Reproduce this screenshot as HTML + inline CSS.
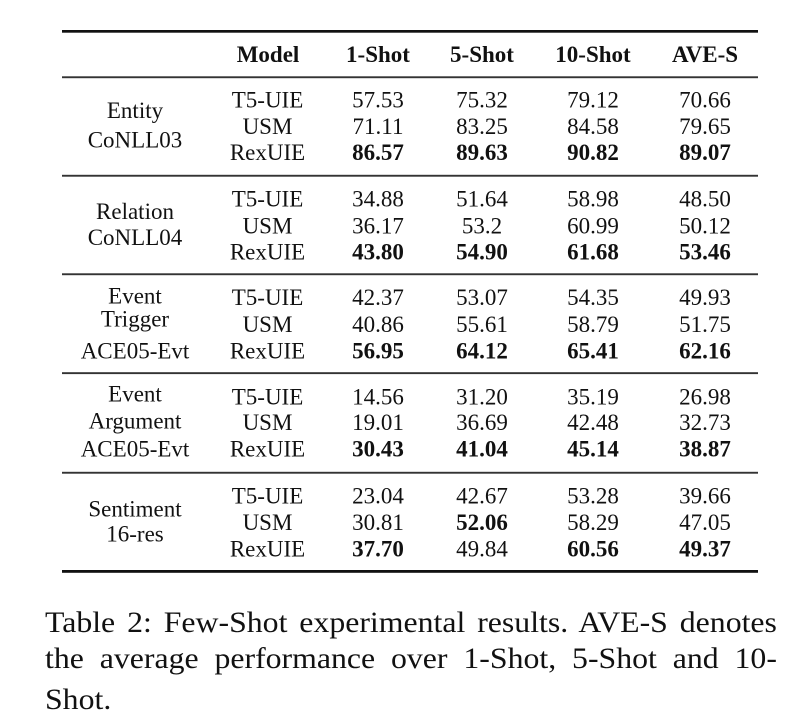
<!DOCTYPE html>
<html>
<head>
<meta charset="utf-8">
<style>
  html, body { margin: 0; padding: 0; background: #fff; }
  body { width: 801px; height: 721px; position: relative; overflow: hidden; }
  svg { position: absolute; left: 0; top: 0; }
  svg text { font-family: "Liberation Serif", "Times New Roman", serif; font-size: 23px; fill: #111; text-anchor: middle; }
  svg text.b { font-weight: bold; }
  .cl { position: absolute; left: 45px; width: 690.5px; font-family: "Liberation Serif", "Times New Roman", serif; font-size: 30px; line-height: 38.5px; color: #111; white-space: nowrap; transform: scaleX(1.06); transform-origin: 0 0; }
  .cl.j { text-align: justify; text-align-last: justify; white-space: normal; }
</style>
</head>
<body>
<svg width="801" height="721" viewBox="0 0 801 721" xmlns="http://www.w3.org/2000/svg">
  <!-- rules -->
  <rect x="62" y="30" width="696" height="2.7" fill="#111"/>
  <rect x="62" y="76.3" width="696" height="1.9" fill="#333"/>
  <rect x="62" y="174.8" width="696" height="1.9" fill="#333"/>
  <rect x="62" y="273.3" width="696" height="1.9" fill="#333"/>
  <rect x="62" y="372.2" width="696" height="1.9" fill="#333"/>
  <rect x="62" y="471.8" width="696" height="1.9" fill="#333"/>
  <rect x="62" y="570" width="696" height="2.8" fill="#111"/>

  <!-- header -->
  <text class="b" x="268" y="62">Model</text>
  <text class="b" x="378" y="62">1-Shot</text>
  <text class="b" x="482" y="62">5-Shot</text>
  <text class="b" x="593" y="62">10-Shot</text>
  <text class="b" x="705" y="62">AVE-S</text>

  <!-- Entity -->
  <text x="135" y="118">Entity</text>
  <text x="135" y="147.3">CoNLL03</text>
  <text x="267.5" y="107.3">T5-UIE</text>
  <text x="267.5" y="134">USM</text>
  <text x="267.5" y="160">RexUIE</text>
  <text x="378" y="107.3">57.53</text>
  <text x="482" y="107.3">75.32</text>
  <text x="593" y="107.3">79.12</text>
  <text x="705" y="107.3">70.66</text>
  <text x="378" y="134">71.11</text>
  <text x="482" y="134">83.25</text>
  <text x="593" y="134">84.58</text>
  <text x="705" y="134">79.65</text>
  <text class="b" x="378" y="160">86.57</text>
  <text class="b" x="482" y="160">89.63</text>
  <text class="b" x="593" y="160">90.82</text>
  <text class="b" x="705" y="160">89.07</text>

  <!-- Relation -->
  <text x="135" y="219">Relation</text>
  <text x="135" y="245">CoNLL04</text>
  <text x="267.5" y="206.7">T5-UIE</text>
  <text x="267.5" y="233.3">USM</text>
  <text x="267.5" y="259.3">RexUIE</text>
  <text x="378" y="206.7">34.88</text>
  <text x="482" y="206.7">51.64</text>
  <text x="593" y="206.7">58.98</text>
  <text x="705" y="206.7">48.50</text>
  <text x="378" y="233.3">36.17</text>
  <text x="482" y="233.3">53.2</text>
  <text x="593" y="233.3">60.99</text>
  <text x="705" y="233.3">50.12</text>
  <text class="b" x="378" y="259.3">43.80</text>
  <text class="b" x="482" y="259.3">54.90</text>
  <text class="b" x="593" y="259.3">61.68</text>
  <text class="b" x="705" y="259.3">53.46</text>

  <!-- Event Trigger -->
  <text x="135" y="303.3">Event</text>
  <text x="135" y="326.7">Trigger</text>
  <text x="135" y="358.3">ACE05-Evt</text>
  <text x="267.5" y="305">T5-UIE</text>
  <text x="267.5" y="332">USM</text>
  <text x="267.5" y="358.3">RexUIE</text>
  <text x="378" y="305">42.37</text>
  <text x="482" y="305">53.07</text>
  <text x="593" y="305">54.35</text>
  <text x="705" y="305">49.93</text>
  <text x="378" y="332">40.86</text>
  <text x="482" y="332">55.61</text>
  <text x="593" y="332">58.79</text>
  <text x="705" y="332">51.75</text>
  <text class="b" x="378" y="358.3">56.95</text>
  <text class="b" x="482" y="358.3">64.12</text>
  <text class="b" x="593" y="358.3">65.41</text>
  <text class="b" x="705" y="358.3">62.16</text>

  <!-- Event Argument -->
  <text x="135" y="401.7">Event</text>
  <text x="135" y="428.3">Argument</text>
  <text x="135" y="456.7">ACE05-Evt</text>
  <text x="267.5" y="404.3">T5-UIE</text>
  <text x="267.5" y="430">USM</text>
  <text x="267.5" y="456.7">RexUIE</text>
  <text x="378" y="404.3">14.56</text>
  <text x="482" y="404.3">31.20</text>
  <text x="593" y="404.3">35.19</text>
  <text x="705" y="404.3">26.98</text>
  <text x="378" y="430">19.01</text>
  <text x="482" y="430">36.69</text>
  <text x="593" y="430">42.48</text>
  <text x="705" y="430">32.73</text>
  <text class="b" x="378" y="456.7">30.43</text>
  <text class="b" x="482" y="456.7">41.04</text>
  <text class="b" x="593" y="456.7">45.14</text>
  <text class="b" x="705" y="456.7">38.87</text>

  <!-- Sentiment -->
  <text x="135" y="516.7">Sentiment</text>
  <text x="135" y="541.7">16-res</text>
  <text x="267.5" y="503.3">T5-UIE</text>
  <text x="267.5" y="530">USM</text>
  <text x="267.5" y="556.3">RexUIE</text>
  <text x="378" y="503.3">23.04</text>
  <text x="482" y="503.3">42.67</text>
  <text x="593" y="503.3">53.28</text>
  <text x="705" y="503.3">39.66</text>
  <text x="378" y="530">30.81</text>
  <text class="b" x="482" y="530">52.06</text>
  <text x="593" y="530">58.29</text>
  <text x="705" y="530">47.05</text>
  <text class="b" x="378" y="556.3">37.70</text>
  <text x="482" y="556.3">49.84</text>
  <text class="b" x="593" y="556.3">60.56</text>
  <text class="b" x="705" y="556.3">49.37</text>
</svg>

<div class="cl j" style="top:603.6px;">Table 2: Few-Shot experimental results. AVE-S denotes</div>
<div class="cl j" style="top:639.6px;">the average performance over 1-Shot, 5-Shot and 10-</div>
<div class="cl" style="top:680.6px;">Shot.</div>
</body>
</html>
